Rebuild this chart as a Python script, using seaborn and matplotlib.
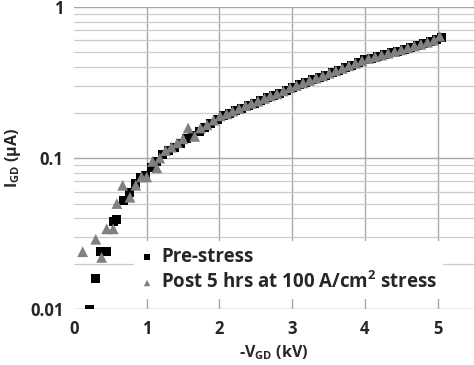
import pandas as pd
import matplotlib.pyplot as plt
import seaborn as sns
from matplotlib.ticker import LogLocator, NullFormatter, FixedLocator

# Pre-stress (black squares), -V_GD in kV and I_GD in uA
pre_v = [0.22, 0.30, 0.37, 0.45, 0.54, 0.59, 0.68, 0.77, 0.84, 0.91, 0.98, 1.07,
         1.14, 1.22, 1.30, 1.38, 1.46, 1.55, 1.63, 1.72, 1.80, 1.88, 1.97, 2.05,
         2.14, 2.22, 2.31, 2.40, 2.48, 2.57, 2.66, 2.74, 2.83, 2.92, 3.01, 3.10,
         3.19, 3.28, 3.37, 3.46, 3.55, 3.64, 3.73, 3.82, 3.91, 4.00, 4.09, 4.18,
         4.27, 4.36, 4.45, 4.54, 4.63, 4.72, 4.81, 4.90, 4.99, 5.06]
pre_i = [0.010, 0.016, 0.024, 0.024, 0.038, 0.039, 0.052, 0.059, 0.068, 0.074, 0.077, 0.087,
         0.095, 0.106, 0.112, 0.117, 0.124, 0.134, 0.140, 0.150, 0.160, 0.168, 0.180, 0.190,
         0.198, 0.206, 0.214, 0.222, 0.230, 0.240, 0.250, 0.258, 0.268, 0.280, 0.295, 0.307,
         0.318, 0.330, 0.342, 0.354, 0.368, 0.382, 0.396, 0.412, 0.428, 0.446, 0.458, 0.470,
         0.484, 0.496, 0.510, 0.526, 0.540, 0.556, 0.572, 0.590, 0.608, 0.625]

# Post 5 hrs at 100 A/cm2 stress (grey triangles)
post_v = [0.12, 0.30, 0.38, 0.45, 0.54, 0.59, 0.67, 0.77, 0.85, 0.93, 1.00, 1.08,
          1.14, 1.18, 1.26, 1.34, 1.42, 1.50, 1.57, 1.66, 1.74, 1.83, 1.92, 2.01,
          2.10, 2.18, 2.27, 2.36, 2.44, 2.53, 2.62, 2.70, 2.79, 2.88, 2.97, 3.06,
          3.15, 3.24, 3.33, 3.42, 3.51, 3.60, 3.69, 3.78, 3.87, 3.96, 4.05, 4.14,
          4.23, 4.32, 4.41, 4.50, 4.59, 4.68, 4.77, 4.86, 4.95, 5.03]
post_i = [0.024, 0.029, 0.022, 0.034, 0.034, 0.050, 0.066, 0.055, 0.066, 0.075, 0.075, 0.095,
          0.086, 0.100, 0.112, 0.118, 0.126, 0.134, 0.158, 0.139, 0.158, 0.166, 0.178, 0.190,
          0.196, 0.204, 0.212, 0.222, 0.230, 0.238, 0.248, 0.258, 0.266, 0.278, 0.292, 0.302,
          0.314, 0.326, 0.338, 0.350, 0.364, 0.378, 0.392, 0.408, 0.424, 0.440, 0.456, 0.468,
          0.480, 0.494, 0.506, 0.520, 0.536, 0.552, 0.566, 0.584, 0.602, 0.640]

x_ticks = [0, 1, 2, 3, 4, 5]
y_ticks = [0.01, 0.1, 1]
y_tick_labels = ["0.01", "0.1", "1"]

sns.set_style("white")
plt.rcParams['font.family'] = ['Open Sans', 'DejaVu Sans']
plt.rcParams['font.weight'] = 'bold'
plt.rcParams['mathtext.fontset'] = 'custom'
plt.rcParams['mathtext.bf'] = 'Open Sans:bold'
plt.rcParams['mathtext.rm'] = 'Open Sans:bold'
plt.rcParams['mathtext.default'] = 'bf'

fig = plt.figure(figsize=(4.74, 3.65), dpi=100)
ax = fig.add_axes([0.156, 0.153, 0.844, 0.828])

sns.scatterplot(x=post_v, y=post_i, marker="^", s=60, color="#808080",
                edgecolor="none", ax=ax, label="Post 5 hrs at 100 A/cm$^{2}$ stress", zorder=3)
sns.scatterplot(x=pre_v, y=pre_i, marker="s", s=42, color="black",
                edgecolor="none", ax=ax, label="Pre-stress", zorder=2)

ax.set_yscale("log")
ax.set_ylim(0.01, 1)
ax.set_xlim(0, 5.5)
ax.xaxis.set_major_locator(FixedLocator(x_ticks))
ax.set_yticks(y_ticks)
ax.set_yticklabels(y_tick_labels)
ax.yaxis.set_minor_locator(LogLocator(base=10, subs=range(2, 10)))
ax.yaxis.set_minor_formatter(NullFormatter())

ax.grid(True, which="major", color="#a8a8a8", linewidth=1.0, zorder=0)
ax.grid(True, which="minor", axis="y", color="#cccccc", linewidth=0.9, zorder=0)
ax.get_xgridlines()[0].set_visible(False)
ax.set_axisbelow(True)
for s in ax.spines.values():
    s.set_visible(False)
ax.tick_params(axis="both", which="major", length=4.5, color="#a8a8a8", width=1.0,
               labelsize=12, pad=3)
ax.tick_params(axis="y", which="minor", length=0)
for t in ax.get_xticklabels() + ax.get_yticklabels():
    t.set_fontweight("bold")

ax.set_xlabel("-V$_{GD}$ (kV)", fontsize=11.5, fontweight="bold", labelpad=4)
ax.set_ylabel("I$_{GD}$ (\u03bcA)", fontsize=11.5, fontweight="bold", labelpad=5)

handles, labels = ax.get_legend_handles_labels()
leg = ax.legend(handles[::-1], labels[::-1], loc="lower left", bbox_to_anchor=(0.15, 0.035),
                frameon=True, facecolor="white", edgecolor="none", framealpha=1,
                prop={"size": 13.5, "weight": "bold"}, handletextpad=0.35,
                handlelength=0.8, borderpad=0.3, labelspacing=0.25, markerscale=0.6,
                borderaxespad=0)

fig.savefig("out.png", dpi=100)
